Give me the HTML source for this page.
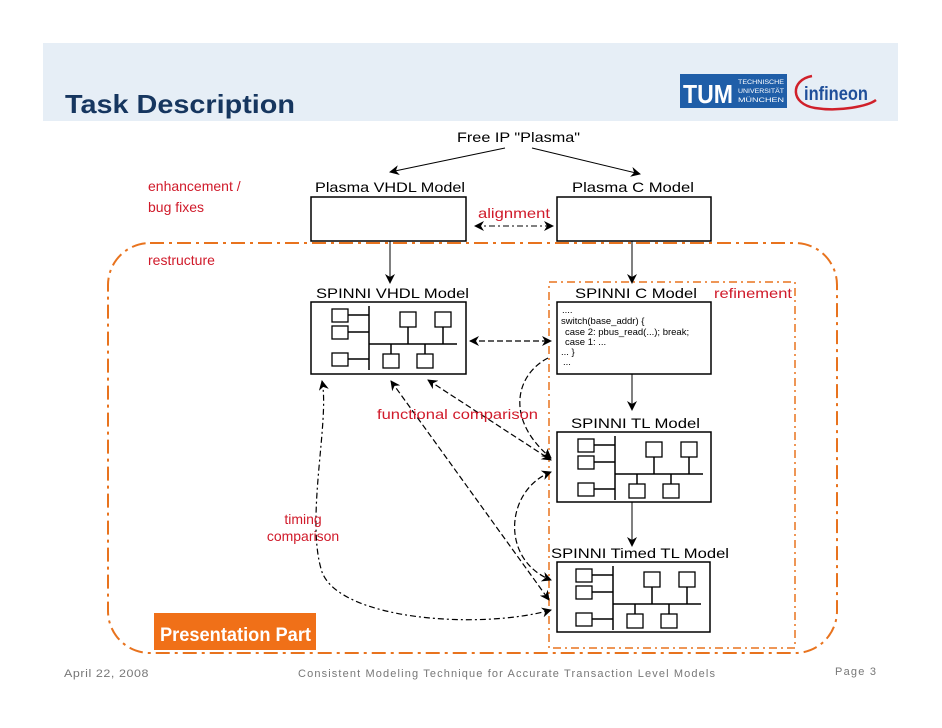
<!DOCTYPE html>
<html><head><meta charset="utf-8"><style>
body{margin:0;background:#fff;}
svg{display:block;font-family:"Liberation Sans",sans-serif;}
</style></head><body>
<svg width="942" height="728" viewBox="0 0 942 728" xmlns="http://www.w3.org/2000/svg">
<defs>
<marker id="a" markerWidth="10" markerHeight="10" refX="9" refY="5" orient="auto" markerUnits="userSpaceOnUse">
<path d="M0,0 L10,5 L0,10 L3,5 z" fill="#000"/></marker>
<marker id="b" markerWidth="10" markerHeight="10" refX="1" refY="5" orient="auto" markerUnits="userSpaceOnUse">
<path d="M10,0 L0,5 L10,10 L7,5 z" fill="#000"/></marker>
<g id="blk">
<g fill="#fff" stroke="#000" stroke-width="1.3">
<rect x="21" y="7" width="16" height="13"/><rect x="21" y="24" width="16" height="13"/><rect x="21" y="51" width="16" height="13"/>
<rect x="89" y="10" width="16" height="15"/><rect x="124" y="10" width="16" height="15"/>
<rect x="72" y="52" width="16" height="14"/><rect x="106" y="52" width="16" height="14"/>
</g>
<g stroke="#000" stroke-width="1.5" fill="none">
<path d="M58 4 V68 M37 13 H58 M37 30 H58 M37 57 H58 M58 42 H146 M97 25 V42 M132 25 V42 M80 42 V52 M114 42 V52"/>
</g></g>
</defs>
<rect x="43" y="43" width="855" height="78" fill="#e6eef6"/>
<text x="65" y="113" font-size="26" font-weight="bold" fill="#16365f" textLength="230" lengthAdjust="spacingAndGlyphs">Task Description</text>
<rect x="680" y="74" width="107" height="34" fill="#1f5ea8"/>
<text x="683" y="103" font-size="26" font-weight="bold" fill="#fff" textLength="50" lengthAdjust="spacingAndGlyphs">TUM</text>
<text x="738" y="84" font-size="6.5" fill="#fff" textLength="46" lengthAdjust="spacingAndGlyphs">TECHNISCHE</text>
<text x="738" y="93" font-size="6.5" fill="#fff" textLength="46" lengthAdjust="spacingAndGlyphs">UNIVERSITÄT</text>
<text x="738" y="102" font-size="6.5" fill="#fff" textLength="46" lengthAdjust="spacingAndGlyphs">MÜNCHEN</text>
<path d="M812 76 C790 80 790 104 815 108 C840 112 868 106 876 100" fill="none" stroke="#d0202a" stroke-width="2.5"/>
<text x="804" y="100" font-size="19" font-weight="bold" fill="#1f4f9a" textLength="64" lengthAdjust="spacingAndGlyphs">infineon</text>

<text x="457" y="142" font-size="14" textLength="123" lengthAdjust="spacingAndGlyphs">Free IP "Plasma"</text>
<line x1="505" y1="148" x2="390" y2="172" stroke="#000" marker-end="url(#a)"/>
<line x1="532" y1="148" x2="640" y2="174" stroke="#000" marker-end="url(#a)"/>
<text x="148" y="191" font-size="14" fill="#d01a2a">enhancement /</text>
<text x="148" y="212" font-size="14" fill="#d01a2a">bug fixes</text>
<text x="148" y="265" font-size="14" fill="#d01a2a">restructure</text>
<text x="315" y="192" font-size="14" textLength="150" lengthAdjust="spacingAndGlyphs">Plasma VHDL Model</text>
<text x="572" y="192" font-size="14" textLength="122" lengthAdjust="spacingAndGlyphs">Plasma C Model</text>
<rect x="311" y="197" width="155" height="44" fill="#fff" stroke="#000" stroke-width="1.5"/>
<rect x="557" y="197" width="154" height="44" fill="#fff" stroke="#000" stroke-width="1.5"/>
<text x="478" y="218" font-size="14" fill="#d01a2a" textLength="72" lengthAdjust="spacingAndGlyphs">alignment</text>
<line x1="475" y1="226" x2="553" y2="226" stroke="#000" stroke-dasharray="6,3,2,3" marker-start="url(#b)" marker-end="url(#a)"/>

<rect x="108" y="243" width="729" height="410" rx="42" fill="none" stroke="#e8731e" stroke-width="2" stroke-dasharray="14,5,3,5"/>
<rect x="549" y="282" width="246" height="366" fill="none" stroke="#e8731e" stroke-width="1.5" stroke-dasharray="8,4,2,4"/>

<line x1="390" y1="241" x2="390" y2="283" stroke="#000" marker-end="url(#a)"/>
<line x1="632" y1="241" x2="632" y2="283" stroke="#000" marker-end="url(#a)"/>
<text x="316" y="298" font-size="14" textLength="153" lengthAdjust="spacingAndGlyphs">SPINNI VHDL Model</text>
<text x="575" y="298" font-size="14" textLength="122" lengthAdjust="spacingAndGlyphs">SPINNI C Model</text>
<text x="714" y="298" font-size="14" fill="#d01a2a" textLength="78" lengthAdjust="spacingAndGlyphs">refinement</text>
<rect x="311" y="302" width="155" height="72" fill="#fff" stroke="#000" stroke-width="1.5"/>
<use href="#blk" x="311" y="302"/>
<rect x="557" y="302" width="154" height="72" fill="#fff" stroke="#000" stroke-width="1.5"/>
<g font-size="9.5">
<text x="562" y="313">....</text>
<text x="561" y="324">switch(base_addr) {</text>
<text x="565" y="335">case 2: pbus_read(...); break;</text>
<text x="565" y="345">case 1: ...</text>
<text x="561" y="355">... }</text>
<text x="563" y="365">...</text>
</g>
<line x1="632" y1="374" x2="632" y2="410" stroke="#000" marker-end="url(#a)"/>
<text x="571" y="428" font-size="14" textLength="129" lengthAdjust="spacingAndGlyphs">SPINNI TL Model</text>
<rect x="557" y="432" width="154" height="70" fill="#fff" stroke="#000" stroke-width="1.5"/>
<use href="#blk" x="557" y="432"/>
<line x1="632" y1="502" x2="632" y2="546" stroke="#000" marker-end="url(#a)"/>
<text x="551" y="558" font-size="14" textLength="178" lengthAdjust="spacingAndGlyphs">SPINNI Timed TL Model</text>
<rect x="557" y="562" width="153" height="70" fill="#fff" stroke="#000" stroke-width="1.5"/>
<use href="#blk" x="555" y="562"/>

<g stroke="#000" stroke-width="1.2" fill="none" stroke-dasharray="6,3">
<line x1="470" y1="341" x2="551" y2="341" marker-start="url(#b)" marker-end="url(#a)"/>
<path d="M548 358 C515 375 505 420 551 458" marker-end="url(#a)"/>
<line x1="428" y1="380" x2="551" y2="460" marker-start="url(#b)" marker-end="url(#a)"/>
<line x1="391" y1="381" x2="549" y2="600" marker-start="url(#b)" marker-end="url(#a)"/>
<path d="M551 472 C505 490 500 560 551 580" marker-start="url(#b)" marker-end="url(#a)"/>
</g>
<path d="M322 381 C330 420 305 520 322 572 C340 620 480 630 551 610" stroke="#000" stroke-width="1.2" fill="none" stroke-dasharray="6,3,2,3" marker-start="url(#b)" marker-end="url(#a)"/>
<text x="377" y="419" font-size="14" fill="#d01a2a" textLength="161" lengthAdjust="spacingAndGlyphs">functional comparison</text>
<text x="303" y="524" font-size="14" fill="#d01a2a" text-anchor="middle">timing</text>
<text x="303" y="541" font-size="14" fill="#d01a2a" text-anchor="middle">comparison</text>

<rect x="154" y="613" width="162" height="37" fill="#f07018"/>
<text x="160" y="641" font-size="19" font-weight="bold" fill="#fff" textLength="151" lengthAdjust="spacingAndGlyphs">Presentation Part</text>

<text x="64" y="677" font-size="11" fill="#777" letter-spacing="0.5" textLength="85" lengthAdjust="spacingAndGlyphs">April 22, 2008</text>
<text x="298" y="677" font-size="11" fill="#777" textLength="417" lengthAdjust="spacing">Consistent Modeling Technique for Accurate Transaction Level Models</text>
<text x="835" y="675" font-size="11" fill="#777" textLength="41" lengthAdjust="spacing">Page 3</text>
</svg>
</body></html>
